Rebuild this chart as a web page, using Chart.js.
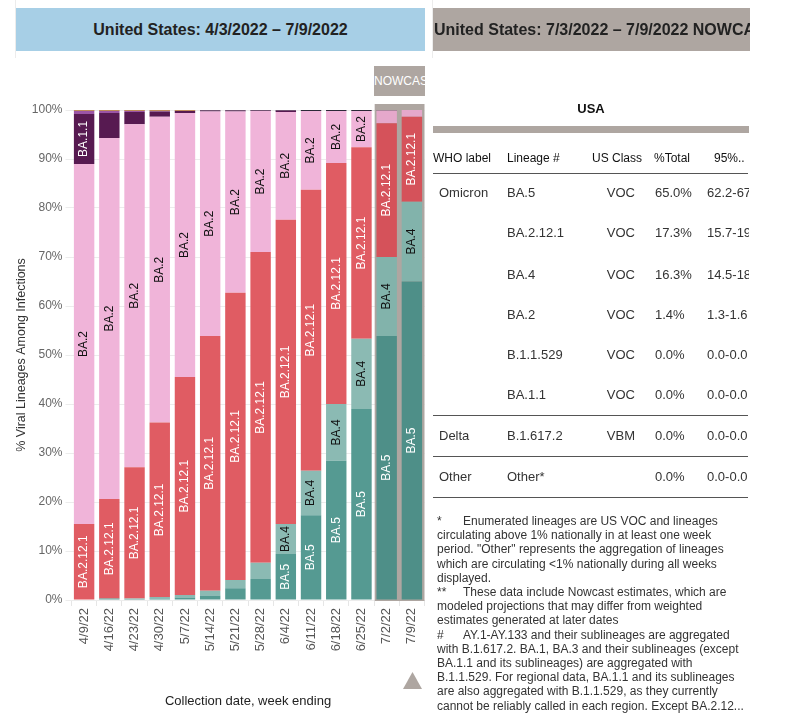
<!DOCTYPE html>
<html lang="en">

<head>
  <meta charset="UTF-8">
  <title>United States variant proportions</title>
  <script src="https://cdn.jsdelivr.net/npm/chart.js"></script>
  <style>
    body { margin: 0; background: #fff; font-family: "Liberation Sans", Arial, sans-serif; }
    #page { position: relative; width: 790px; height: 727px; overflow: hidden; }
    #chart { position: absolute; left: 0; top: 0; }
    .vline { position: absolute; top: 0; width: 1px; height: 58px; background: #ececec; }
    .titlebox { position: absolute; top: 8px; height: 43px; line-height: 43px; font-weight: bold;
      font-size: 16px; color: #222; white-space: nowrap; overflow: hidden; }
    #nowcastTag { position: absolute; left: 374px; top: 66px; width: 51px; height: 30px; line-height: 30px;
      background: #aea6a1; color: #fff; font-size: 12px; white-space: nowrap; overflow: hidden; }
    #panel { position: absolute; left: 433px; top: 0; width: 316px; height: 500px; overflow: hidden; }
    #panel .usa { position: absolute; left: 0; width: 316px; top: 101px; text-align: center; font-weight: bold; font-size: 13px; color: #111; }
    #panel .bar { position: absolute; left: 0; width: 316px; top: 126px; height: 7px; background: #aea6a1; }
    #panel .rule { position: absolute; left: 0; width: 315px; height: 1px; background: #555; }
    #panel .cell { position: absolute; height: 20px; line-height: 20px; font-size: 13px; color: #333; white-space: nowrap; }
    #panel .head { font-size: 12px; color: #111; }
    #notes { position: absolute; left: 437px; top: 514px; font-size: 12px; line-height: 14.2px; color: #333; white-space: nowrap; }
    #notes .mk { display: inline-block; width: 26px; }
    #tri { position: absolute; left: 402px; top: 671px; }
  </style>
</head>

<body>
  <div id="page">
    <canvas id="chart" width="430" height="727"></canvas>
    <div class="vline" style="left:15px"></div>
    <div class="vline" style="left:432px"></div>
    <div class="titlebox" style="left:16px;width:409px;background:#a7cfe6;text-align:center">United States: 4/3/2022 – 7/9/2022</div>
    <div class="titlebox" style="left:433px;width:316px;background:#aea6a1;padding-left:1px">United States: 7/3/2022 – 7/9/2022 NOWCAST</div>
    <div id="nowcastTag">NOWCAST</div>
    <div id="panel"></div>
    <div id="notes">
      <span class="mk">*</span>Enumerated lineages are US VOC and lineages<br>
      circulating above 1% nationally in at least one week<br>
      period. "Other" represents the aggregation of lineages<br>
      which are circulating &lt;1% nationally during all weeks<br>
      displayed.<br>
      <span class="mk">**</span>These data include Nowcast estimates, which are<br>
      modeled projections that may differ from weighted<br>
      estimates generated at later dates<br>
      <span class="mk">#</span>AY.1-AY.133 and their sublineages are aggregated<br>
      with B.1.617.2. BA.1, BA.3 and their sublineages (except<br>
      BA.1.1 and its sublineages) are aggregated with<br>
      B.1.1.529. For regional data, BA.1.1 and its sublineages<br>
      are also aggregated with B.1.1.529, as they currently<br>
      cannot be reliably called in each region. Except BA.2.12...
    </div>
    <svg id="tri" width="22" height="19"><polygon points="10.5,1 20,18 1,18" fill="#aea6a1"></polygon></svg>
  </div>

  <script>
    // week ending dates
    const weeks = ['4/9/22', '4/16/22', '4/23/22', '4/30/22', '5/7/22', '5/14/22', '5/21/22',
      '5/28/22', '6/4/22', '6/11/22', '6/18/22', '6/25/22', '7/2/22', '7/9/22'];
    const nowcastStart = 12; // last two weeks are nowcast

    // share of lineages, % (bottom to top of each bar)
    const ba5 = [0.0, 0.3, 0.2, 0.3, 0.5, 0.9, 2.4, 4.3, 9.4, 17.3, 28.4, 39.0, 53.9, 65.0];
    const ba4 = [0.0, 0.0, 0.1, 0.3, 0.5, 1.0, 1.7, 3.3, 6.1, 9.1, 11.6, 14.3, 16.1, 16.3];
    const ba2121 = [15.5, 20.3, 26.8, 35.6, 44.5, 52.0, 58.6, 63.4, 62.1, 57.3, 49.2, 39.1, 27.3, 17.3];
    const ba2 = [73.5, 73.7, 70.0, 62.4, 53.9, 45.8, 37.0, 28.8, 22.0, 16.1, 10.6, 7.4, 2.6, 1.4];
    const ba11 = [10.2, 5.1, 2.5, 1.1, 0.4, 0.2, 0.2, 0.1, 0.3, 0.0, 0.0, 0.0, 0.0, 0.0];
    const b11529 = [0.6, 0.4, 0.2, 0.1, 0.0, 0.0, 0.0, 0.0, 0.0, 0.0, 0.0, 0.0, 0.0, 0.0];
    const delta = [0.1, 0.1, 0.1, 0.1, 0.1, 0.0, 0.0, 0.0, 0.0, 0.0, 0.0, 0.0, 0.0, 0.0];
    const other = [0.1, 0.1, 0.1, 0.1, 0.1, 0.1, 0.1, 0.1, 0.1, 0.2, 0.2, 0.2, 0.1, 0.0];

    const yTicks = [0, 10, 20, 30, 40, 50, 60, 70, 80, 90, 100];

    // nowcast table
    const tblWho = ['Omicron', '', '', '', '', '', 'Delta', 'Other'];
    const tblLineage = ['BA.5', 'BA.2.12.1', 'BA.4', 'BA.2', 'B.1.1.529', 'BA.1.1', 'B.1.617.2', 'Other*'];
    const tblClass = ['VOC', 'VOC', 'VOC', 'VOC', 'VOC', 'VOC', 'VBM', ''];
    const tblPct = ['65.0%', '17.3%', '16.3%', '1.4%', '0.0%', '0.0%', '0.0%', '0.0%'];
    const tblCI = ['62.2-67.7', '15.7-19.0', '14.5-18.2', '1.3-1.6', '0.0-0.0', '0.0-0.0', '0.0-0.0', '0.0-0.0'];
    const rowY = [193, 233, 275, 315, 355, 395, 436, 477];

    const panel = document.getElementById('panel');
    function cell(text, y, left, right, head) {
      const d = document.createElement('div');
      d.className = head ? 'cell head' : 'cell';
      d.textContent = text;
      d.style.top = (y - 10) + 'px';
      if (left !== null) d.style.left = left + 'px';
      if (right !== null) d.style.right = right + 'px';
      panel.appendChild(d);
    }
    function rule(y) {
      const r = document.createElement('div');
      r.className = 'rule';
      r.style.top = y + 'px';
      panel.appendChild(r);
    }
    panel.innerHTML = '<div class="usa">USA</div><div class="bar"></div>';
    cell('WHO label', 158, 0, null, true);
    cell('Lineage #', 158, 74, null, true);
    cell('US Class', 158, null, 107, true);
    cell('%Total', 158, 221, null, true);
    cell('95%..', 158, 281, null, true);
    rule(173);
    tblLineage.forEach((lin, i) => {
      cell(tblWho[i], rowY[i], 6, null);
      cell(lin, rowY[i], 74, null);
      cell(tblClass[i], rowY[i], null, 114);
      cell(tblPct[i], rowY[i], 222, null);
      cell(tblCI[i], rowY[i], 274, null);
    });
    rule(415); rule(456); rule(497);

    // per-bar colours, nowcast weeks are a shade darker
    function shade(normal, nowcast) {
      return weeks.map((w, i) => i >= nowcastStart ? nowcast : normal);
    }

    const nowcastBand = {
      id: 'nowcastBand',
      beforeDatasetsDraw(chart) {
        const { ctx, chartArea, scales: { x } } = chart;
        const x0 = x.getPixelForValue(nowcastStart) - 12;
        ctx.save();
        ctx.fillStyle = '#aea6a1';
        ctx.fillRect(x0, chartArea.top - 6, chartArea.right - x0, chartArea.bottom - chartArea.top + 7);
        ctx.restore();
      }
    };

    const segLabels = {
      id: 'segLabels',
      afterDatasetsDraw(chart) {
        const ctx = chart.ctx;
        chart.data.datasets.forEach((ds, di) => {
          if (!ds.textColor) return;
          chart.getDatasetMeta(di).data.forEach((bar, i) => {
            if (ds.data[i] < 6) return;
            ctx.save();
            ctx.translate(bar.x, (bar.y + bar.base) / 2);
            ctx.rotate(-Math.PI / 2);
            ctx.font = '12px "Liberation Sans", Arial, sans-serif';
            ctx.fillStyle = ds.textColor;
            ctx.textAlign = 'center';
            ctx.textBaseline = 'middle';
            ctx.fillText(ds.label, 0, 0);
            ctx.restore();
          });
        });
      }
    };

    Chart.defaults.font.family = '"Liberation Sans", Arial, sans-serif';

    new Chart(document.getElementById('chart'), {
      type: 'bar',
      data: {
        labels: weeks,
        datasets: [
          { label: 'BA.5', data: ba5, backgroundColor: shade('#559a92', '#4e8f88'), textColor: '#fff' },
          { label: 'BA.4', data: ba4, backgroundColor: shade('#8bbab3', '#82b3ab'), textColor: '#111' },
          { label: 'BA.2.12.1', data: ba2121, backgroundColor: shade('#e05c63', '#d5525a'), textColor: '#fff' },
          { label: 'BA.2', data: ba2, backgroundColor: shade('#f0b4d9', '#e5a8cb'), textColor: '#111' },
          { label: 'BA.1.1', data: ba11, backgroundColor: '#571a51', textColor: '#fff' },
          { label: 'B.1.1.529', data: b11529, backgroundColor: '#9b55a6' },
          { label: 'B.1.617.2', data: delta, backgroundColor: '#f08a24' },
          { label: 'Other', data: other, backgroundColor: '#2c2838' }
        ]
      },
      options: {
        responsive: false,
        animation: false,
        datasets: { bar: { barPercentage: 0.81, categoryPercentage: 1 } },
        layout: { padding: { top: 110, right: 5.5, bottom: 0, left: 0 } },
        plugins: { legend: { display: false }, tooltip: { enabled: false } },
        scales: {
          x: {
            stacked: true,
            afterFit: s => { s.height = 127; },
            border: { display: false },
            grid: { offset: true, drawOnChartArea: false, tickLength: 6, color: '#e6e6e6' },
            ticks: { minRotation: 90, maxRotation: 90, padding: 2, color: '#555', font: { size: 13 } },
            title: { display: true, text: 'Collection date, week ending', color: '#222',
              font: { size: 13 }, padding: { top: 0, bottom: 18 } }
          },
          y: {
            stacked: true,
            min: 0,
            max: 100,
            afterFit: s => { s.width = 71.5; },
            afterBuildTicks: s => { s.ticks = yTicks.map(v => ({ value: v })); },
            border: { display: false },
            grid: { color: '#ececec', tickLength: 6 },
            ticks: { padding: 3, color: '#666', font: { size: 12 }, callback: v => v + '%' },
            title: { display: true, text: '% Viral Lineages Among Infections', color: '#333',
              font: { size: 12.5 }, padding: { top: 14.5, bottom: 0 } }
          }
        }
      },
      plugins: [nowcastBand, segLabels]
    });
  </script>
</body>

</html>
